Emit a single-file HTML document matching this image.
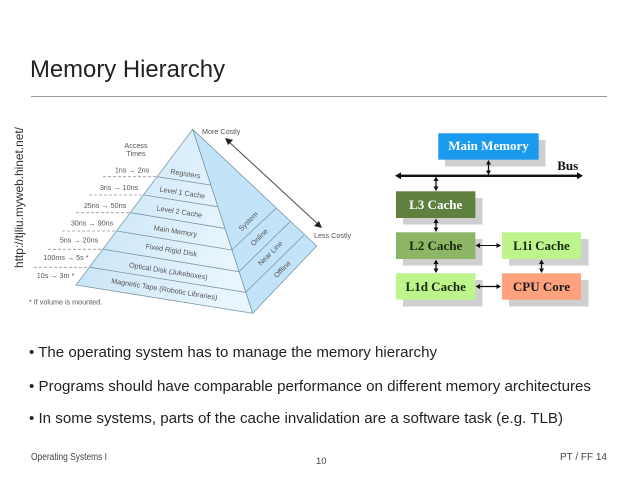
<!DOCTYPE html>
<html><head><meta charset="utf-8">
<style>
html,body{margin:0;padding:0;background:#fff}
body{width:638px;height:479px;overflow:hidden}
svg{display:block}
.s{font-family:"Liberation Sans",sans-serif}
.p{font-family:"Liberation Sans",sans-serif;font-size:7.2px;fill:#555}
.b{font-family:"Liberation Serif",serif;font-weight:bold;font-size:13px;text-anchor:middle}
</style></head><body>
<svg width="638" height="479" viewBox="0 0 638 479" xmlns="http://www.w3.org/2000/svg">
<defs>
<linearGradient id="f" x1="0" y1="0" x2="1" y2="0.2"><stop offset="0" stop-color="#c4e2f6"/><stop offset="1" stop-color="#eaf6fd"/></linearGradient>
</defs>
<rect width="638" height="479" fill="#fff"/>
<text class="s" x="30" y="77" font-size="24" fill="#222" textLength="195" lengthAdjust="spacingAndGlyphs">Memory Hierarchy</text>
<rect x="31" y="96" width="576" height="1" fill="#999"/>
<text class="s" transform="translate(23,268) rotate(-90)" font-size="12" fill="#333" textLength="141" lengthAdjust="spacingAndGlyphs">http://tjliu.myweb.hinet.net/</text>

<g style="filter:blur(.35px)">
<polygon points="192.7,129.3 76,285 252.7,313.3" fill="url(#f)" stroke="#7d9aa8" stroke-width=".8"/>
<polygon points="192.7,129.3 252.7,313.3 316.7,246" fill="#c2e3f8" stroke="#7d9aa8" stroke-width=".8"/>
<g stroke="#7d9aa8" stroke-width=".8" fill="none">
<path d="M157.3,176.7L210.7,185M144,195L217.3,206.7M130.7,212.7L224.3,228.3M116.7,231L231.7,250M103.3,249.3L239,271.7M90,267.3L245.7,292.3"/>
<path d="M231.7,250L276,208.3M239,271.7L290,221.7M245.7,292.3L304,235"/>
</g>
<g stroke="#999" stroke-width=".8" stroke-dasharray="3 2" fill="none">
<path d="M103,176.7H157M89,195H144M76,212.7H130M62,231H117M48,249.3H103M34,267.3H90"/>
</g>
<text class="p" x="136" y="148" text-anchor="middle">Access</text>
<text class="p" x="136" y="156" text-anchor="middle">Times</text>
<g text-anchor="middle">
<text class="p" x="132" y="172.500">1ns → 2ns</text>
<text class="p" x="119" y="190.200">3ns → 10ns</text>
<text class="p" x="105" y="208.200">25ns → 50ns</text>
<text class="p" x="92" y="225.500">30ns → 90ns</text>
<text class="p" x="79" y="242.500">5ns → 20ns</text>
<text class="p" x="66" y="260.200">100ms → 5s *</text>
<text class="p" x="55.500" y="278.200">10s → 3m *</text>
</g>
<text class="p" x="29" y="304.500">*  If volume is mounted.</text>
<g text-anchor="middle">
<text class="p" transform="translate(185,176) rotate(9)">Registers</text>
<text class="p" transform="translate(182,195) rotate(9)">Level 1 Cache</text>
<text class="p" transform="translate(179,214) rotate(9)">Level 2 Cache</text>
<text class="p" transform="translate(175,233.500) rotate(9)">Main Memory</text>
<text class="p" transform="translate(171,252.500) rotate(9)">Fixed Rigid Disk</text>
<text class="p" transform="translate(168,273.500) rotate(9)">Optical Disk (Jukeboxes)</text>
<text class="p" transform="translate(164,291.500) rotate(9)">Magnetic Tape (Robotic Libraries)</text>
<text class="p" transform="translate(250,223) rotate(-45)">System</text>
<text class="p" transform="translate(261,239) rotate(-45)">Online</text>
<text class="p" transform="translate(272,255) rotate(-45)">Near Line</text>
<text class="p" transform="translate(284,271) rotate(-45)">Offline</text>
</g>
<text class="p" x="202" y="134">More Costly</text>
<text class="p" x="314" y="238">Less Costly</text>
<line x1="228" y1="141" x2="320" y2="226" stroke="#555" stroke-width="1.100"/>
<polygon points="225,138 233,140 228,145" fill="#222"/>
<polygon points="322,228 314,226 319,221" fill="#222"/>
</g>

<g style="filter:blur(.25px)">
<g fill="#cfcfcf">
<rect x="445" y="140" width="100.500" height="26.500"/>
<rect x="403" y="198" width="79.500" height="26.500"/>
<rect x="403" y="239" width="79.500" height="26.500"/>
<rect x="403" y="280" width="79.500" height="26.500"/>
<rect x="509" y="239" width="79.500" height="26.500"/>
<rect x="509" y="280" width="79.500" height="26.500"/>
</g>
<rect x="438.300" y="133.300" width="100.400" height="26.400" fill="#1a9bf0"/>
<rect x="396" y="191.300" width="79.400" height="26.700" fill="#60803f"/>
<rect x="396" y="232.300" width="79.400" height="26.700" fill="#8cb565"/>
<rect x="396" y="273.300" width="79.400" height="26.400" fill="#bdf58c"/>
<rect x="502" y="232.300" width="79" height="26.700" fill="#bdf58c"/>
<rect x="502" y="273.300" width="79" height="26.400" fill="#fda27c"/>
<text class="b" x="488.500" y="150" fill="#fff">Main Memory</text>
<text class="b" x="435.700" y="209" fill="#fff">L3 Cache</text>
<text class="b" x="435.700" y="250" fill="#1a2a10">L2 Cache</text>
<text class="b" x="435.700" y="291" fill="#1a2a10">L1d Cache</text>
<text class="b" x="541.500" y="250" fill="#1a2a10">L1i Cache</text>
<text class="b" x="541.500" y="291" fill="#1a1a1a">CPU Core</text>
<text class="b" x="567.700" y="170" fill="#111">Bus</text>
<rect x="398" y="174.600" width="182" height="2.400" fill="#111"/>
<polygon points="395,175.800 401,172.300 401,179.300" fill="#111"/>
<polygon points="583,175.800 577,172.300 577,179.300" fill="#111"/>
<g stroke="#111" stroke-width="1.300" fill="#111">
<path d="M488.500,162V174M436,178V190M436,220V231M436,261V272M541.500,261V272" fill="none"/>
<path d="M479,286.500H499" fill="none"/>
<path d="M479,245.500H499" fill="none" stroke-width=".9"/>
<g stroke="none">
<polygon points="488.500,160 486,164.500 491,164.500"/><polygon points="488.500,175 486,170.500 491,170.500"/>
<polygon points="436,176.500 433.500,181 438.500,181"/><polygon points="436,191 433.500,186.500 438.500,186.500"/>
<polygon points="436,218.500 433.500,223 438.500,223"/><polygon points="436,232 433.500,227.500 438.500,227.500"/>
<polygon points="436,259.500 433.500,264 438.500,264"/><polygon points="436,273 433.500,268.500 438.500,268.500"/>
<polygon points="541.500,259.500 539,264 544,264"/><polygon points="541.500,273 539,268.500 544,268.500"/>
<polygon points="475.500,245.500 480,243 480,248"/><polygon points="501,245.500 496.500,243 496.500,248"/>
<polygon points="475.500,286.500 480,284 480,289"/><polygon points="501,286.500 496.500,284 496.500,289"/>
</g>
</g>
</g>

<g class="s" font-size="15" fill="#222">
<text x="29" y="357" textLength="408" lengthAdjust="spacingAndGlyphs">• The operating system has to manage the memory hierarchy</text>
<text x="29" y="391" textLength="562" lengthAdjust="spacingAndGlyphs">• Programs should have comparable performance on different memory architectures</text>
<text x="29" y="423" textLength="534" lengthAdjust="spacingAndGlyphs">• In some systems, parts of the cache invalidation are a software task (e.g. TLB)</text>
</g>
<g class="s" font-size="10" fill="#444">
<text x="31" y="460" textLength="76" lengthAdjust="spacingAndGlyphs">Operating Systems I</text>
<text x="316" y="464" font-size="9.500">10</text>
<text x="607" y="460" text-anchor="end">PT / FF 14</text>
</g>
</svg>
</body></html>
